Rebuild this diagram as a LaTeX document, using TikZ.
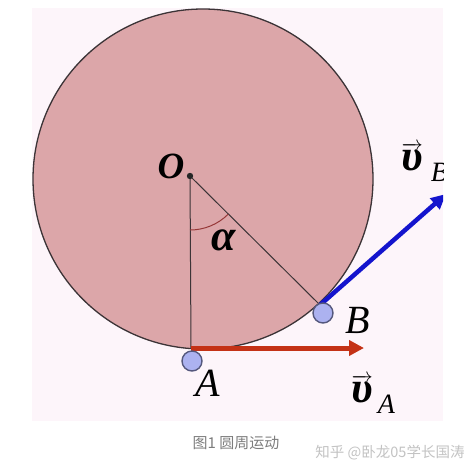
\documentclass[tikz,border=0pt]{standalone}
\usepackage{fontspec}
\setmainfont{Liberation Serif}
\newfontfamily\cjk{Noto Sans CJK SC}
\usetikzlibrary{arrows.meta,calc}
\definecolor{panelbg}{RGB}{253,245,250}
\definecolor{diskfill}{RGB}{220,166,169}
\definecolor{rimgray}{RGB}{60,52,55}
\definecolor{dotfill}{RGB}{172,178,240}
\definecolor{dotrim}{RGB}{85,88,125}
\definecolor{velred}{RGB}{196,50,22}
\definecolor{velblue}{RGB}{20,20,205}
\definecolor{arcred}{RGB}{150,55,55}
\definecolor{capgray}{RGB}{125,125,125}
\definecolor{markgray}{RGB}{195,195,195}
\tikzset{
  dotnode/.style={circle,fill=dotfill,draw=dotrim,line width=1.4pt,minimum size=20pt,inner sep=0pt},
  radline/.style={draw=rimgray,line width=1pt},
  biglabel/.style={inner sep=0pt,font=\fontsize{40}{40}\selectfont\itshape},
  vellabel/.style={inner sep=0pt,anchor=base west},
}
\newcommand{\vsym}{{\fontsize{20.74}{20.74}\selectfont$\overrightarrow{\mbox{\fontsize{44}{44}\selectfont\bfseries\itshape υ}}$}}
\begin{document}
\begin{tikzpicture}[x=1pt,y=-1pt]
\useasboundingbox (0,0) rectangle (474,471);
\fill[white] (0,0) rectangle (474,471);
\fill[panelbg] (32,8) rectangle (443,421);
\begin{scope}
\clip (32,8) rectangle (443,421);
\filldraw[fill=diskfill,draw=rimgray,line width=1.3pt] (203,179) circle[radius=170pt];
\coordinate (O) at (190,176);
\coordinate (At) at (191,348);
\coordinate (Bt) at (320,305);
\coordinate (vAend) at (364,348);
\coordinate (vBend) at (446,194);
\draw[radline] (O) -- (At);
\draw[radline] (O) -- (Bt);
\draw[arcred,line width=1pt] ($(O)+(0,54)$) arc[start angle=-90,end angle=-45,radius=54pt];
\fill[black!85] (O) circle[radius=3.2pt];
\draw[velred,line width=5pt,-{Triangle[length=15pt,width=15pt]}] (At) -- (vAend);
\draw[velblue,line width=4.5pt,-{Triangle[length=15pt,width=14pt]}] (Bt) -- (vBend);
\node[dotnode] (A) at (192,361) {};
\node[dotnode] (B) at (323,313) {};
\node[biglabel,font=\fontsize{37}{37}\selectfont\bfseries\itshape] (Olab) at (171,166) {O};
\node[biglabel] (Alab) at (208,383) {A};
\node[biglabel] (Blab) at (358,320) {B};
\node[biglabel,font=\fontsize{44}{44}\selectfont\bfseries\itshape] (alab) at (224,240) {α};
\node[vellabel] (vA) at (351,402) {\vsym\hspace{5pt}\raisebox{-11pt}{\fontsize{28}{28}\selectfont\itshape A}};
\node[vellabel] (vB) at (401,170) {\vsym\hspace{8pt}\raisebox{-11pt}{\fontsize{28}{28}\selectfont\itshape B}};
\end{scope}
\node[font=\cjk\fontsize{15}{15}\selectfont,text=capgray,inner sep=0pt] (cap) at (236,443) {图1 圆周运动};
\node[font=\cjk\fontsize{14.5}{14.5}\selectfont,text=markgray,inner sep=0pt] (mark) at (390,453) {知乎 @卧龙05学长国涛};
\end{tikzpicture}
\end{document}
